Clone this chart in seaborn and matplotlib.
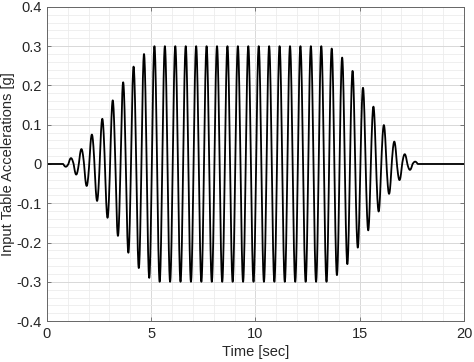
import numpy as np
import pandas as pd
import matplotlib
matplotlib.use("Agg")
import matplotlib.pyplot as plt
import seaborn as sns
from matplotlib.ticker import MultipleLocator

# ---- data ----
# signed extreme value of each successive half-cycle of the 2 Hz sweep [g]
half_cycle_peaks = [
    -0.007, 0.015, -0.027, 0.038, -0.056, 0.075, -0.094, 0.115, -0.137,
    0.162, -0.183, 0.208, -0.226, 0.248, -0.265, 0.280, -0.290,
    0.30, -0.30, 0.30, -0.30, 0.30, -0.30, 0.30, -0.30, 0.30, -0.30,
    0.30, -0.30, 0.30, -0.30, 0.30, -0.30, 0.30, -0.30, 0.30, -0.30,
    0.30, -0.30, 0.30, -0.30, 0.30, -0.30, 0.30, -0.30, 0.30, -0.30,
    0.30, -0.30, 0.30, -0.30,
    0.294, -0.283, 0.271, -0.255, 0.237, -0.213, 0.194, -0.169, 0.146,
    -0.121, 0.099, -0.076, 0.057, -0.041, 0.025, -0.015, 0.006,
]
signal_start = 0.78      # s, first zero crossing
half_period = 0.25       # s (2 Hz)
record_end = 20.0        # s

x_ticks = [0, 5, 10, 15, 20]
y_ticks = [-0.4, -0.3, -0.2, -0.1, 0, 0.1, 0.2, 0.3, 0.4]
x_label = "Time [sec]"
y_label = "Input Table Accelerations [g]"

# ---- build the waveform from the half-cycle extremes ----
t_parts = [np.array([0.0, signal_start])]
a_parts = [np.array([0.0, 0.0])]
for k, amp in enumerate(half_cycle_peaks):
    s = signal_start + k * half_period
    tt = np.linspace(s, s + half_period, 40)
    t_parts.append(tt)
    a_parts.append(amp * np.sin(np.pi * (tt - s) / half_period))
end_sig = signal_start + len(half_cycle_peaks) * half_period
t_parts.append(np.array([end_sig, record_end]))
a_parts.append(np.array([0.0, 0.0]))
df = pd.DataFrame({"t": np.concatenate(t_parts), "a": np.concatenate(a_parts)})

# ---- styling ----
sns.set_theme(style="ticks")
plt.rcParams["font.family"] = ["Liberation Sans", "DejaVu Sans"]
plt.rcParams["axes.unicode_minus"] = False

fig = plt.figure(figsize=(4.74, 3.62), dpi=100)
ax = fig.add_axes([0.099, 0.113, 0.880, 0.868])

sns.lineplot(data=df, x="t", y="a", ax=ax, color="black", linewidth=1.3,
             sort=False, estimator=None)

ax.set_xlim(0, 20)
ax.set_ylim(-0.4, 0.4)
ax.set_xticks(x_ticks)
ax.set_xticklabels([str(v) for v in x_ticks])
ax.set_yticks(y_ticks)
ax.set_yticklabels([("0" if v == 0 else f"{v:.1f}") for v in y_ticks])
ax.xaxis.set_minor_locator(MultipleLocator(1))
ax.yaxis.set_minor_locator(MultipleLocator(0.02))

ax.grid(which="major", color="#d8d8d8", linewidth=0.7)
ax.grid(which="minor", color="#ececec", linewidth=0.6)
ax.set_axisbelow(True)

for sp in ax.spines.values():
    sp.set_visible(True)
    sp.set_color("#666666")
    sp.set_linewidth(0.7)

ax.tick_params(which="major", direction="in", length=3, width=0.6,
               top=True, right=True, colors="#666666",
               labelcolor="#262626", labelsize=10.5, pad=4)
ax.tick_params(which="minor", length=0, top=True, right=True)

ax.set_xlabel(x_label, fontsize=10.5, color="#262626", labelpad=3)
ax.set_ylabel(y_label, fontsize=10.5, color="#262626", labelpad=1)

fig.savefig("out.png", dpi=100, facecolor="white")
